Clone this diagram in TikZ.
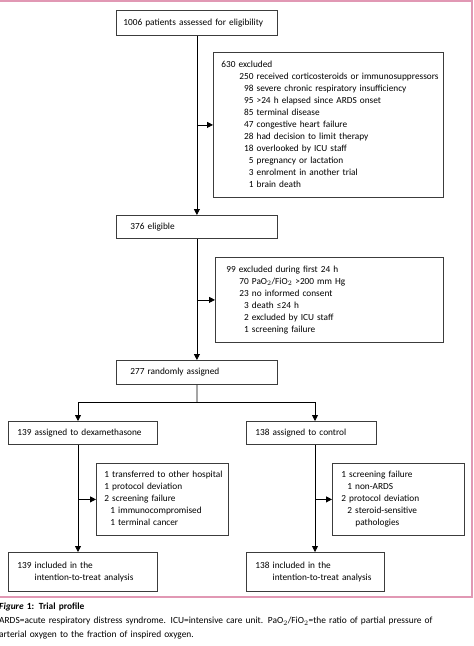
\documentclass[tikz,border=0pt]{standalone}
\usepackage{fontspec}
\setmainfont{Carlito}
\usepackage{tikz}
\usetikzlibrary{arrows.meta, positioning}
\definecolor{framepink}{RGB}{225, 152, 180}
\definecolor{boxgray}{RGB}{60, 60, 60}
\newcommand{\flowfont}{\fontsize{9.3pt}{12pt}\selectfont}
\newcommand{\capfont}{\fontsize{9.4pt}{14pt}\selectfont}

\begin{document}
\begin{tikzpicture}[x=1pt, y=-1pt,
    flowbox/.style={draw=boxgray, line width=0.8pt, anchor=north west,
                    inner ysep=0pt, font=\flowfont, align=left},
    flowarrow/.style={-{Triangle[length=6pt, width=6pt]}, line width=0.8pt},
    flowline/.style={line width=0.8pt}]
  \useasboundingbox (0,0) rectangle (474,646);

  % pink frame of the figure panel
  \draw[framepink, line width=2pt] (-5,1) -- (472,1) -- (472,597) -- (-5,597);

  % main column
  \node[flowbox, inner xsep=7pt, text width=147pt, minimum height=25pt]
    (assessed) at (116,10) {1006 patients assessed for eligibility};
  \node[flowbox, inner xsep=8pt, text width=214pt, minimum height=145pt]
    (excl) at (213,52) {%
    \begin{tabular}{@{}r@{ }l@{}}
      \multicolumn{2}{@{}l@{}}{630 excluded}\\
      \hspace{18pt}250 & received corticosteroids or immunosuppressors\\
      98 & severe chronic respiratory insufficiency\\
      95 & >24 h elapsed since ARDS onset\\
      85 & terminal disease\\
      47 & congestive heart failure\\
      28 & had decision to limit therapy\\
      18 & overlooked by ICU staff\\
      5 & pregnancy or lactation\\
      3 & enrolment in another trial\\
      1 & brain death
    \end{tabular}};
  \node[flowbox, inner xsep=14pt, text width=133pt, minimum height=23pt]
    (eligible) at (116,215) {376 eligible};
  \node[flowbox, inner xsep=11pt, text width=206pt, minimum height=85pt]
    (excl24) at (215,257) {%
    \begin{tabular}{@{}r@{ }l@{}}
      \multicolumn{2}{@{}l@{}}{99 excluded during first 24 h}\\
      \hspace{13pt}70 & PaO$_2$/FiO$_2$ >200 mm Hg\\
      23 & no informed consent\\
      3 & death ≤24 h\\
      2 & excluded by ICU staff\\
      1 & screening failure
    \end{tabular}};
  \node[flowbox, inner xsep=14pt, text width=133pt, minimum height=24pt]
    (random) at (116,360) {277 randomly assigned};

  % the two arms
  \node[flowbox, inner xsep=9pt, text width=131pt, minimum height=23pt]
    (dexa) at (8,421) {139 assigned to dexamethasone};
  \node[flowbox, inner xsep=9pt, text width=112pt, minimum height=23pt]
    (ctrl) at (246,421) {138 assigned to control};
  \node[flowbox, inner xsep=8pt, text width=116pt, minimum height=72pt]
    (dexaout) at (96,463) {%
    \begin{tabular}{@{}l@{}}
      1 transferred to other hospital\\
      1 protocol deviation\\
      2 screening failure\\
      \hspace{6pt}1 immunocompromised\\
      \hspace{6pt}1 terminal cancer
    \end{tabular}};
  \node[flowbox, inner xsep=9pt, text width=114pt, minimum height=72pt]
    (ctrlout) at (332,463) {%
    \begin{tabular}{@{}l@{}}
      1 screening failure\\
      \hspace{6pt}1 non-ARDS\\
      2 protocol deviation\\
      \hspace{6pt}2 steroid-sensitive\\
      \hspace{14pt}pathologies
    \end{tabular}};
  \node[flowbox, inner xsep=9pt, text width=131pt, minimum height=39pt]
    (dexaitt) at (8,552) {%
    \begin{tabular}{@{}l@{ }l@{}}
      139 & included in the\\
          & intention-to-treat analysis
    \end{tabular}};
  \node[flowbox, inner xsep=9pt, text width=120pt, minimum height=39pt]
    (ctrlitt) at (246,552) {%
    \begin{tabular}{@{}l@{ }l@{}}
      138 & included in the\\
          & intention-to-treat analysis
    \end{tabular}};

  % branch points of the arms
  \coordinate (split) at (197,402);
  \coordinate (dexaline) at (78,402);
  \coordinate (ctrlline) at (315,402);

  % connectors
  \draw[flowarrow] (assessed.south) -- (eligible.north);
  \draw[flowarrow] (assessed.south |- excl.west) -- (excl.west);
  \draw[flowarrow] (eligible.south) -- (random.north);
  \draw[flowarrow] (eligible.south |- excl24.west) -- (excl24.west);
  \draw[flowline] (random.south) -- (split);
  \draw[flowarrow] (dexaline -| split) -- (dexaline) -- (dexaline |- dexa.north);
  \draw[flowarrow] (split) -- (ctrlline) -- (ctrlline |- ctrl.north);
  \draw[flowarrow] (dexaline |- dexa.south) -- (dexaline |- dexaitt.north);
  \draw[flowarrow] (dexaline |- dexaout.west) -- (dexaout.west);
  \draw[flowarrow] (ctrlline |- ctrl.south) -- (ctrlline |- ctrlitt.north);
  \draw[flowarrow] (ctrlline |- ctrlout.west) -- (ctrlout.west);

  % caption
  \node[anchor=north west, inner sep=0pt, font=\capfont, align=left,
        text width=475pt] (caption) at (-1,603) {%
    \textbf{\textit{Figure} 1: Trial profile}\\
    ARDS=acute respiratory distress syndrome. ICU=intensive care unit.
    PaO$_2$/FiO$_2$=the ratio of partial pressure of\\
    arterial oxygen to the fraction of inspired oxygen.};
\end{tikzpicture}
\end{document}
